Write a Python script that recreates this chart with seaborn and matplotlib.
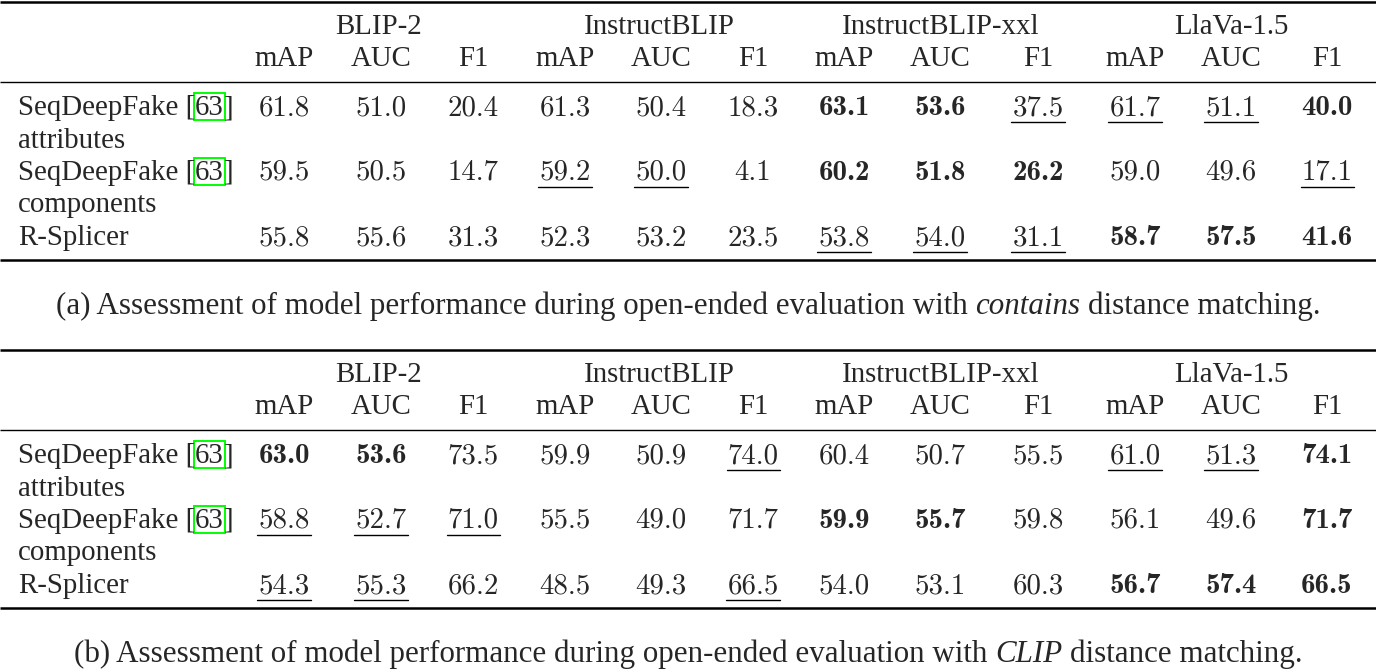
import matplotlib.pyplot as plt
import seaborn as sns
from matplotlib.patches import Rectangle

sns.set_theme(style='white')
plt.rcParams['font.family'] = ['Liberation Serif', 'DejaVu Serif']

# data
models = ["BLIP-2", "InstructBLIP", "InstructBLIP-xxl", "LlaVa-1.5"]
metrics = ["mAP", "AUC", "F1"]
methods = [("SeqDeepFake [", "63", "]", "attributes"),
           ("SeqDeepFake [", "63", "]", "components"),
           ("R-Splicer", None, None, None)]

contains_values = [
    [61.8, 51.0, 20.4, 61.3, 50.4, 18.3, 63.1, 53.6, 37.5, 61.7, 51.1, 40.0],
    [59.5, 50.5, 14.7, 59.2, 50.0, 4.1, 60.2, 51.8, 26.2, 59.0, 49.6, 17.1],
    [55.8, 55.6, 31.3, 52.3, 53.2, 23.5, 53.8, 54.0, 31.1, 58.7, 57.5, 41.6],
]
# b = bold, u = underlined, . = plain
contains_marks = ["......bbuuub", "...uu.bbb..u", "......uuubbb"]

clip_values = [
    [63.0, 53.6, 73.5, 59.9, 50.9, 74.0, 60.4, 50.7, 55.5, 61.0, 51.3, 74.1],
    [58.8, 52.7, 71.0, 55.5, 49.0, 71.7, 59.9, 55.7, 59.8, 56.1, 49.6, 71.7],
    [54.3, 55.3, 66.2, 48.5, 49.3, 66.5, 54.0, 53.1, 60.3, 56.7, 57.4, 66.5],
]
clip_marks = ["bb...u...uub", "uuu...bb...b", "uu...u...bbb"]

caption_a = ("(a) Assessment of model performance during open-ended evaluation with",
             "contains", "distance matching.")
caption_b = ("(b) Assessment of model performance during open-ended evaluation with",
             "CLIP", "distance matching.")

# layout
W, H = 1376, 670
FS = 20.8
CAP_FS = 22.3
col_x = [284, 381, 473, 565, 661, 753, 844, 940, 1038, 1135, 1231, 1327]
label_x = 18

fig = plt.figure(figsize=(W / 100, H / 100), dpi=100)
ax = fig.add_axes([0, 0, 1, 1])
ax.set_xlim(0, W)
ax.set_ylim(H, 0)
ax.axis('off')
renderer = fig.canvas.get_renderer()


def extent(t):
    bb = t.get_window_extent(renderer).transformed(ax.transData.inverted())
    return bb.x0, bb.x1


def text_w(s, **kw):
    t = ax.text(0, -100, s, **kw)
    x0, x1 = extent(t)
    t.remove()
    return x1 - x0


def draw_table(top, values, marks, caption):
    ax.plot([0, W], [top, top], color='black', lw=1.8, solid_capstyle='butt')
    ax.plot([0, W], [top + 80, top + 80], color='black', lw=1.0, solid_capstyle='butt')
    ax.plot([0, W], [top + 258, top + 258], color='black', lw=1.8, solid_capstyle='butt')

    # headers
    for g, name in enumerate(models):
        cx = (col_x[3 * g] + col_x[3 * g + 2]) / 2
        ax.text(cx, top + 32, name, fontsize=FS, ha='center', va='baseline')
        for k, m in enumerate(metrics):
            ax.text(col_x[3 * g + k], top + 64, m, fontsize=FS, ha='center', va='baseline')

    row_base = [top + 113, top + 178, top + 243]
    for r, (name, ref, close, sub) in enumerate(methods):
        yb = row_base[r]
        t = ax.text(label_x, yb, name, fontsize=FS, va='baseline')
        if ref is not None:
            _, x1 = extent(t)
            t2 = ax.text(x1, yb, ref, fontsize=FS, va='baseline')
            a0, a1 = extent(t2)
            ax.add_patch(Rectangle((a0 - 1, yb - 0.76 * FS * 100 / 72), a1 - a0 + 2,
                                   0.94 * FS * 100 / 72, fill=False,
                                   ec='#00ff00', lw=1.4))
            ax.text(a1, yb, close, fontsize=FS, va='baseline')
            ax.text(label_x, yb + 32.5, sub, fontsize=FS, va='baseline')

        for c, v in enumerate(values[r]):
            mk = marks[r][c]
            fam = 'cmb10' if mk == 'b' else 'cmr10'
            t = ax.text(col_x[c], yb, '%.1f' % v, fontsize=FS, family=fam,
                        ha='center', va='baseline')
            if mk == 'u':
                x0, x1 = extent(t)
                ax.plot([x0 - 1, x1 + 1], [yb + 6.5, yb + 6.5], color='black', lw=1.0)

    # caption with italic word
    pre, it, post = caption
    sp = text_w("a a", fontsize=CAP_FS) - text_w("aa", fontsize=CAP_FS)
    w_pre = text_w(pre, fontsize=CAP_FS)
    w_it = text_w(it, fontsize=CAP_FS, style='italic')
    w_post = text_w(post, fontsize=CAP_FS)
    total = w_pre + w_it + w_post + 2 * sp
    x = W / 2 - total / 2
    yc = top + 312
    ax.text(x, yc, pre, fontsize=CAP_FS, va='baseline')
    x += w_pre + sp
    ax.text(x, yc, it, fontsize=CAP_FS, va='baseline', style='italic')
    x += w_it + sp
    ax.text(x, yc, post, fontsize=CAP_FS, va='baseline')


draw_table(2, contains_values, contains_marks, caption_a)
draw_table(350, clip_values, clip_marks, caption_b)

fig.savefig('out.png', dpi=100)
